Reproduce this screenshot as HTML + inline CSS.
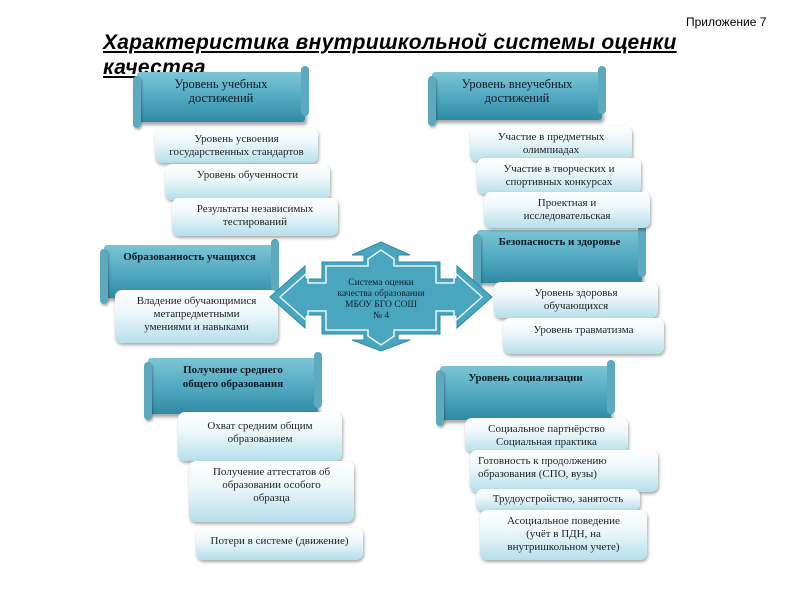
<!DOCTYPE html>
<html><head><meta charset="utf-8"><style>
body{margin:0;width:800px;height:600px;background:#fff;position:relative;overflow:hidden;font-family:"Liberation Serif",serif;}
.t{position:absolute;}
.b{position:absolute;box-sizing:border-box;border-radius:3px;background:linear-gradient(180deg,#7cc5d6 0%,#4fa7bf 55%,#2f8aa4 100%);box-shadow:2px 3px 3px rgba(0,0,0,.35);color:#0d1a22;font-size:12px;text-align:center;line-height:14px;padding-top:5px;}
.b:before{content:"";position:absolute;left:-4px;top:4px;width:8px;bottom:-6px;border-radius:4px;background:#5ea9bd;box-shadow:1px 2px 2px rgba(0,0,0,.3);}
.b:after{content:"";position:absolute;right:-4px;top:-6px;width:8px;bottom:6px;border-radius:4px;background:#5ea9bd;}
.bold{font-weight:bold;}
.l{position:absolute;box-sizing:border-box;border-radius:7px;background:linear-gradient(180deg,#ffffff 0%,#eef8fb 40%,#b5dfeb 100%);box-shadow:1px 2px 3px rgba(0,0,0,.35);font-size:11px;text-align:center;line-height:13px;color:#222;padding-top:5px;}
</style></head><body>
<div class="t" style="left:686px;top:15px;font:12px 'Liberation Sans',sans-serif;">Приложение 7</div>
<div class="t" style="left:103px;top:30px;font:italic bold 21px 'Liberation Sans',sans-serif;text-decoration:underline;line-height:25px;letter-spacing:0.3px;">Характеристика внутришкольной системы оценки<br>качества</div>

<div class="b" style="left:137px;top:72px;width:168px;height:50px;font-size:12.5px;">Уровень учебных<br>достижений</div>
<div class="b" style="left:432px;top:72px;width:170px;height:48px;font-size:12.5px;">Уровень внеучебных<br>достижений</div>
<div class="b bold" style="left:104px;top:245px;width:171px;height:53px;font-size:11px;">Образованность учащихся</div>
<div class="b bold" style="left:477px;top:230px;width:165px;height:53px;font-size:11px;">Безопасность и здоровье</div>
<div class="b bold" style="left:148px;top:358px;width:170px;height:56px;font-size:11px;">Получение среднего<br>общего образования</div>
<div class="b bold" style="left:440px;top:366px;width:171px;height:54px;font-size:11px;">Уровень социализации</div>

<div class="l" style="left:155px;top:128px;width:163px;height:35px;">Уровень усвоения<br>государственных стандартов</div>
<div class="l" style="left:165px;top:164px;width:165px;height:36px;">Уровень обученности</div>
<div class="l" style="left:172px;top:198px;width:166px;height:38px;">Результаты независимых<br>тестирований</div>
<div class="l" style="left:470px;top:126px;width:162px;height:35px;">Участие в предметных<br>олимпиадах</div>
<div class="l" style="left:477px;top:158px;width:164px;height:36px;">Участие в творческих и<br>спортивных конкурсах</div>
<div class="l" style="left:484px;top:192px;width:166px;height:36px;">Проектная и<br>исследовательская</div>
<div class="l" style="left:115px;top:290px;width:163px;height:53px;">Владение обучающимися<br>метапредметными<br>умениями и навыками</div>
<div class="l" style="left:494px;top:282px;width:164px;height:36px;">Уровень здоровья<br>обучающихся</div>
<div class="l" style="left:503px;top:318px;width:161px;height:36px;padding-top:6px;">Уровень травматизма</div>
<div class="l" style="left:178px;top:412px;width:164px;height:49px;padding-top:8px;">Охват средним общим<br>образованием</div>
<div class="l" style="left:189px;top:461px;width:165px;height:61px;">Получение аттестатов об<br>образовании особого<br>образца</div>
<div class="l" style="left:196px;top:528px;width:167px;height:32px;padding-top:7px;">Потери в системе (движение)</div>
<div class="l" style="left:465px;top:418px;width:163px;height:34px;">Социальное партнёрство<br>Социальная практика</div>
<div class="l" style="left:470px;top:450px;width:188px;height:42px;text-align:left;padding-left:8px;">Готовность к продолжению<br>образования (СПО, вузы)</div>
<div class="l" style="left:476px;top:489px;width:164px;height:22px;padding-top:4px;">Трудоустройство, занятость</div>
<div class="l" style="left:480px;top:510px;width:167px;height:50px;">Асоциальное поведение<br>(учёт в ПДН, на<br>внутришкольном учете)</div>

<svg class="t" style="left:0;top:0" width="800" height="600">
<polygon points="270,297 305,266 305,279 322,279 322,262 364,262 364,255 352,255 381,242 410,255 398,255 398,262 440,262 440,279 457,279 457,266 492,297 457,328 457,315 440,315 440,334 398,334 398,340 410,340 381,351 352,340 364,340 364,334 322,334 322,315 305,315 305,328" fill="#4aa5bf" stroke="#2f8aa4" stroke-width="1"/>
<polygon points="280,297 308,272 308,283 326,283 326,266 368,266 368,259 381,250 394,259 394,266 436,266 436,283 454,283 454,272 482,297 454,322 454,311 436,311 436,330 394,330 394,336 381,345 368,336 368,330 326,330 326,311 308,311 308,322" fill="none" stroke="#e6f5f9" stroke-width="1.5"/>
<text x="381" y="285" font-size="9.5" text-anchor="middle" font-family="Liberation Serif,serif" fill="#10202a">Система оценки</text>
<text x="381" y="296" font-size="9.5" text-anchor="middle" font-family="Liberation Serif,serif" fill="#10202a">качества образования</text>
<text x="381" y="307" font-size="9.5" text-anchor="middle" font-family="Liberation Serif,serif" fill="#10202a">МБОУ БГО СОШ</text>
<text x="381" y="318" font-size="9.5" text-anchor="middle" font-family="Liberation Serif,serif" fill="#10202a">№ 4</text>
</svg>
</body></html>
